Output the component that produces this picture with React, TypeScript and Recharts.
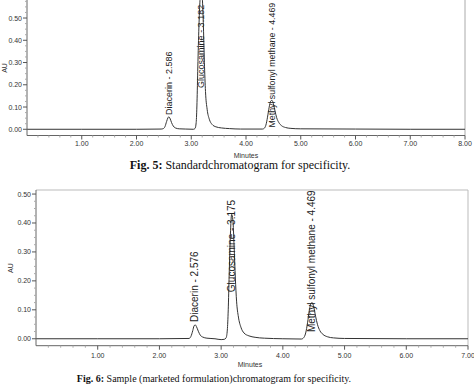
import React from "react";
import { LineChart, Line, XAxis, YAxis, ReferenceLine, ReferenceDot } from "recharts";

// ---- Fig. 5 (standard) ----
const stdTime = [0, 1.0, 2.0, 2.45, 2.49, 2.52, 2.55, 2.575, 2.59, 2.61, 2.64, 2.67, 2.71, 2.78, 2.9, 3.04, 3.07, 3.09, 3.105, 3.12, 3.14, 3.16, 3.18, 3.2, 3.22, 3.24, 3.26, 3.29, 3.33, 3.38, 3.45, 3.55, 3.7, 3.9, 4.3, 4.34, 4.37, 4.4, 4.43, 4.455, 4.475, 4.5, 4.53, 4.56, 4.6, 4.65, 4.72, 4.82, 5.0, 6.0, 7.0, 8.0];
const stdAU = [0, 0, 0, 0.001, 0.003, 0.012, 0.035, 0.052, 0.056, 0.05, 0.03, 0.015, 0.006, 0.002, 0.001, 0.0, 0.004, 0.03, 0.12, 0.28, 0.46, 0.58, 0.64, 0.6, 0.48, 0.3, 0.17, 0.09, 0.045, 0.022, 0.011, 0.006, 0.003, 0.001, 0.001, 0.006, 0.025, 0.065, 0.108, 0.128, 0.13, 0.115, 0.082, 0.052, 0.03, 0.016, 0.008, 0.004, 0.002, 0.001, 0.0, 0.0];

// ---- Fig. 6 (sample) ----
const smpTime = [0, 1.0, 2.0, 2.48, 2.51, 2.54, 2.56, 2.58, 2.6, 2.63, 2.66, 2.7, 2.77, 2.9, 3.0, 3.05, 3.08, 3.1, 3.115, 3.13, 3.15, 3.17, 3.19, 3.21, 3.23, 3.25, 3.28, 3.32, 3.37, 3.45, 3.55, 3.7, 4.0, 4.3, 4.33, 4.37, 4.4, 4.43, 4.455, 4.475, 4.5, 4.53, 4.56, 4.6, 4.65, 4.72, 4.82, 5.0, 6.0, 7.0];
const smpAU = [0, 0, 0, 0.001, 0.008, 0.028, 0.044, 0.048, 0.042, 0.026, 0.013, 0.006, 0.002, 0.0, -0.003, -0.002, 0.003, 0.03, 0.1, 0.22, 0.36, 0.43, 0.41, 0.32, 0.21, 0.13, 0.075, 0.04, 0.02, 0.01, 0.005, 0.002, 0.0, -0.001, 0.002, 0.02, 0.055, 0.1, 0.122, 0.125, 0.11, 0.078, 0.05, 0.028, 0.015, 0.007, 0.003, 0.001, 0.0, 0.0];

// peak labels
const stdPeakNames = ["Diacerin - 2.586", "Glucosamine - 3.182", "Methyl sulfonyl methane - 4.469"];
const stdPeakTimes = [2.586, 3.182, 4.469];
const stdLabelBase = [0.064, 0.186, 0.008];
const smpPeakNames = ["Diacerin - 2.576", "Glucosamine - 3.175", "Methyl sulfonyl methane - 4.469"];
const smpPeakTimes = [2.576, 3.175, 4.469];
const smpLabelBase = [0.058, 0.161, 0.023];

// axis ticks
const yMajor = [0, 0.1, 0.2, 0.3, 0.4, 0.5];
const stdXMajor = [1, 2, 3, 4, 5, 6, 7, 8];
const smpXMajor = [1, 2, 3, 4, 5, 6, 7];

const stdData = stdTime.map((t, i) => ({ t, au: stdAU[i] }));
const smpData = smpTime.map((t, i) => ({ t, au: smpAU[i] }));

const minorList = (max: number, step: number) => {
  const out: number[] = [];
  const n = Math.round(max / step);
  for (let i = 0; i <= n; i++) out.push(Math.round(i * step * 1000) / 1000);
  return out;
};

const isIn = (v: number, arr: number[]) => arr.some((a) => Math.abs(a - v) < 1e-6);

const FONT = "'Liberation Sans', Arial, sans-serif";
const SERIF = "'Liberation Serif', 'Times New Roman', serif";

const makeYTick = (fs: number) => (p: any) => {
  const { x, y, payload } = p;
  const v = payload.value;
  const major = isIn(v, yMajor);
  return (
    <g>
      <line x1={x} x2={x - (major ? 4 : 2)} y1={y} y2={y} stroke={major ? "#555" : "#aaa"} strokeWidth={1} />
      {major && (
        <text x={x - 5} y={y} textAnchor="end" dominantBaseline="central" fontSize={fs} fontFamily={FONT} fill="#333">
          {v.toFixed(2)}
        </text>
      )}
    </g>
  );
};

const makeXTick = (fs: number, gap: number, majors: number[]) => (p: any) => {
  const { x, y, payload } = p;
  const v = payload.value;
  const major = isIn(v, majors);
  return (
    <g>
      <line x1={x} x2={x} y1={y} y2={y + (major ? 4 : 2)} stroke={major ? "#555" : "#aaa"} strokeWidth={1} />
      {major && (
        <text x={x} y={y + gap} textAnchor="middle" dominantBaseline="central" fontSize={fs} fontFamily={FONT} fill="#333">
          {v.toFixed(2)}
        </text>
      )}
    </g>
  );
};

const makePeakLabel = (text: string, fs: number) => (p: any) => {
  const { cx, cy } = p;
  return (
    <text
      x={cx}
      y={cy}
      transform={`rotate(-90 ${cx} ${cy})`}
      textAnchor="start"
      dominantBaseline="central"
      fontSize={fs}
      fontFamily={FONT}
      fill="#222"
    >
      {text}
    </text>
  );
};

const STD_Y = [-0.028, 0.581];
const SMP_Y = [-0.024, 0.514];

export default function App() {
  const stdYTicks = minorList(0.575, 0.025);
  const smpYTicks = minorList(0.5, 0.025);
  const stdXTicks = minorList(8, 0.2).filter((v) => v > 0);
  const smpXTicks = minorList(7, 0.2).filter((v) => v > 0);
  return (
    <div style={{ position: "absolute", left: 0, top: 0, width: 474, height: 388, background: "#fff", overflow: "hidden" }}>
      <div style={{ position: "absolute", left: 0, top: 0 }}>
        <LineChart width={474} height={175} data={stdData} margin={{ top: 0, right: 9, bottom: 19.5, left: 0 }}>
          <XAxis
            dataKey="t"
            type="number"
            domain={[0, 8]}
            ticks={stdXTicks}
            interval={0}
            tickSize={0}
            tickMargin={0}
            tickLine={false}
            height={20}
            stroke="#666"
            tick={makeXTick(7, 8, stdXMajor)}
          />
          <YAxis
            type="number"
            domain={STD_Y}
            allowDataOverflow
            ticks={stdYTicks}
            interval={0}
            tickSize={0}
            tickMargin={0}
            tickLine={false}
            width={27}
            stroke="#666"
            tick={makeYTick(7)}
          />
          <ReferenceLine x={8} stroke="#aaa" />
          <Line dataKey="au" type="monotone" stroke="#333" strokeWidth={1} dot={false} isAnimationActive={false} />
          {stdPeakNames.map((n, i) => (
            <ReferenceDot key={n} x={stdPeakTimes[i]} y={stdLabelBase[i]} shape={makePeakLabel(n, i === 2 ? 8.8 : 9)} ifOverflow="visible" />
          ))}
        </LineChart>
      </div>
      <div style={{ position: "absolute", left: 0, top: 180 }}>
        <LineChart width={474} height={208} data={smpData} margin={{ top: 10, right: 6, bottom: 22.3, left: 0 }}>
          <XAxis
            dataKey="t"
            type="number"
            domain={[0, 7]}
            ticks={smpXTicks}
            interval={0}
            tickSize={0}
            tickMargin={0}
            tickLine={false}
            height={20}
            stroke="#666"
            tick={makeXTick(7, 10, smpXMajor)}
          />
          <YAxis
            type="number"
            domain={SMP_Y}
            allowDataOverflow
            ticks={smpYTicks}
            interval={0}
            tickSize={0}
            tickMargin={0}
            tickLine={false}
            width={36}
            stroke="#666"
            tick={makeYTick(7)}
          />
          <ReferenceLine x={7} stroke="#bbb" />
          <ReferenceLine y={SMP_Y[1]} stroke="#bbb" />
          <Line dataKey="au" type="monotone" stroke="#333" strokeWidth={1} dot={false} isAnimationActive={false} />
          {smpPeakNames.map((n, i) => (
            <ReferenceDot key={n} x={smpPeakTimes[i]} y={smpLabelBase[i]} shape={makePeakLabel(n, 10)} ifOverflow="visible" />
          ))}
        </LineChart>
      </div>
      <svg width={474} height={388} style={{ position: "absolute", left: 0, top: 0, pointerEvents: "none" }}>
        <text x={4} y={68} transform="rotate(-90 4 68)" textAnchor="middle" dominantBaseline="central" fontSize={7} fontFamily={FONT} fill="#333">AU</text>
        <text x={246} y={155} textAnchor="middle" dominantBaseline="central" fontSize={7} fontFamily={FONT} fill="#333">Minutes</text>
        <text x={240} y={169} textAnchor="middle" fontSize={12} fontFamily={SERIF} fill="#111">
          <tspan fontWeight="bold">Fig. 5:</tspan> Standardchromatogram for specificity.
        </text>
        <text x={10} y={268} transform="rotate(-90 10 268)" textAnchor="middle" dominantBaseline="central" fontSize={7} fontFamily={FONT} fill="#333">AU</text>
        <text x={250} y={364} textAnchor="middle" dominantBaseline="central" fontSize={7} fontFamily={FONT} fill="#333">Minutes</text>
        <text x={214} y={382} textAnchor="middle" fontSize={10} fontFamily={SERIF} fill="#111">
          <tspan fontWeight="bold">Fig. 6:</tspan> Sample (marketed formulation)chromatogram for specificity.
        </text>
      </svg>
    </div>
  );
}
